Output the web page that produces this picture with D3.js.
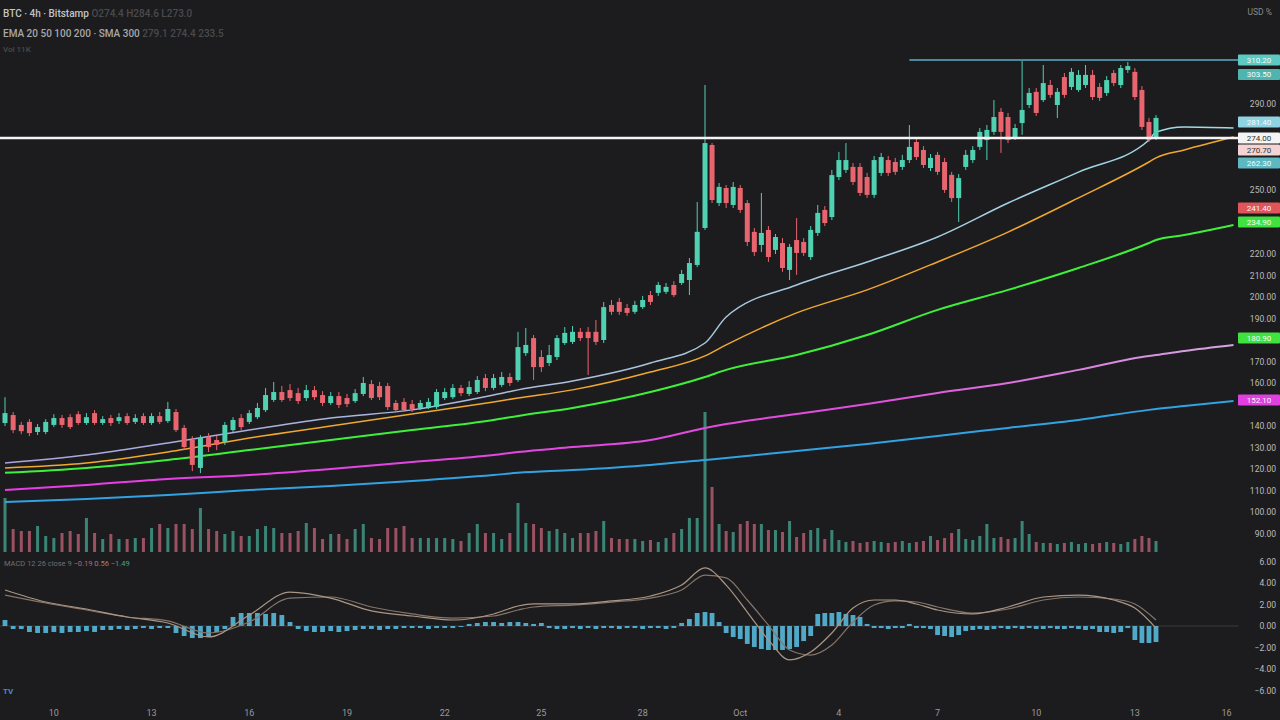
<!DOCTYPE html>
<html>
<head>
<meta charset="utf-8">
<title>BTC 4h</title>
<script src="https://cdn.jsdelivr.net/npm/d3@7"></script>
<style>
  html, body { margin: 0; padding: 0; background: #1c1c1e; overflow: hidden; }
  svg { display: block; }
  text { font-family: Roboto, "DejaVu Sans", sans-serif; }
</style>
</head>
<body>
<div id="chart"></div>
<script>
"use strict";

/*
 * ============================================================================
 * Data
 * ============================================================================
 */

// [open, high, low, close]
const candles = [
  [141.4,153.4,140.0,146.0],[145.1,146.5,136.7,138.1],[140.5,141.9,136.2,137.6],[141.9,143.2,135.3,136.7],
  [137.2,140.9,135.8,139.5],[137.2,143.2,136.2,141.9],[140.5,145.5,139.5,143.7],[143.7,145.1,139.1,140.5],
  [144.1,145.5,138.6,139.5],[145.5,146.9,140.5,141.4],[141.4,146.0,140.5,144.1],[146.0,147.4,140.5,141.4],
  [141.4,144.6,140.5,143.2],[143.7,145.1,140.0,141.4],[142.3,146.0,140.9,144.1],[144.6,146.0,140.5,141.4],
  [141.9,145.5,140.9,143.7],[144.6,146.0,140.5,141.4],[141.4,146.0,140.5,144.6],[144.6,146.5,140.9,141.9],
  [142.3,151.2,141.4,147.9],[146.5,147.9,137.2,138.1],[139.1,140.5,128.8,130.2],[133.5,135.3,119.0,121.9],
  [120.5,135.8,118.1,134.4],[134.9,136.7,127.9,130.2],[133.5,135.3,128.8,131.2],[132.6,141.9,131.2,140.5],
  [138.1,144.1,137.2,142.8],[143.7,145.5,138.1,139.5],[141.9,147.4,140.9,146.0],[144.1,150.7,143.2,148.4],
  [147.4,157.7,146.5,154.4],[152.1,160.5,151.2,155.8],[155.8,158.6,151.2,152.1],[156.7,159.5,151.6,153.0],
  [155.3,157.7,150.2,151.6],[153.0,159.1,151.6,156.7],[156.7,158.6,152.1,153.4],[154.4,156.2,149.3,150.7],
  [150.7,155.8,149.8,153.9],[153.9,155.8,148.4,149.8],[153.0,154.9,148.8,150.2],[151.6,157.2,150.7,155.3],
  [154.9,162.8,153.9,160.0],[159.5,161.4,152.1,153.0],[158.6,160.5,152.1,153.4],[158.6,160.0,147.4,148.8],
  [150.7,152.1,146.5,147.4],[151.2,153.0,146.5,147.4],[150.2,152.1,146.5,147.9],[148.4,152.1,147.4,150.7],
  [148.8,153.0,147.9,151.2],[148.8,157.2,147.9,155.8],[153.0,157.7,152.1,155.8],[153.4,159.5,152.5,157.7],
  [157.7,159.1,153.9,155.3],[154.9,160.9,153.9,158.1],[155.8,163.2,154.9,161.4],[162.3,164.2,156.2,157.7],
  [157.7,164.2,156.7,162.3],[159.1,165.1,158.1,162.8],[162.8,164.6,158.6,160.0],[161.4,183.8,160.5,176.7],
  [173.9,185.6,172.6,177.7],[180.9,182.3,161.4,167.4],[172.1,175.3,165.1,167.4],[169.3,177.7,167.9,173.0],
  [172.1,182.3,170.7,180.9],[178.6,186.0,177.7,183.3],[179.1,186.5,178.1,183.8],[183.8,185.6,179.5,180.9],
  [183.8,186.0,163.7,180.9],[183.8,189.3,177.7,179.1],[180.0,197.7,178.6,195.3],[196.3,198.6,191.7,193.1],
  [197.7,199.5,191.7,193.1],[194.9,196.8,191.2,192.6],[193.1,198.2,192.1,196.3],[195.3,200.5,194.4,198.6],
  [200.9,202.8,196.3,197.7],[201.9,207.0,200.5,205.6],[202.4,206.5,201.4,204.7],[205.6,207.4,200.0,200.9],
  [206.5,212.6,205.6,210.7],[207.9,218.1,200.9,215.8],[214.9,244.2,213.9,230.3],[232.1,298.6,231.2,271.6],
  [270.7,271.6,243.7,245.1],[243.7,253.0,242.3,251.2],[250.7,252.1,241.4,243.7],[242.8,253.5,241.4,251.2],
  [250.7,252.1,239.1,240.5],[243.7,245.1,223.7,225.6],[230.3,232.1,219.1,220.9],[224.2,248.4,220.9,229.8],
  [231.2,233.0,216.3,218.6],[221.9,229.3,220.0,227.9],[225.1,227.4,211.7,213.5],[212.6,224.7,207.9,223.3],
  [226.5,236.7,210.3,220.5],[225.6,227.4,219.1,220.5],[218.6,233.0,217.2,231.2],[229.8,242.8,228.4,239.1],
  [240.5,242.3,233.0,234.4],[237.2,259.1,235.8,256.7],[255.8,267.5,254.4,263.7],[259.1,271.6,257.7,263.7],
  [260.5,262.3,252.1,253.5],[260.5,262.3,247.0,248.4],[255.8,257.7,246.1,247.5],[247.5,265.6,246.1,263.7],
  [257.7,267.0,256.3,265.1],[263.7,265.6,256.3,257.7],[262.8,264.7,256.8,258.2],[260.5,266.1,259.1,263.7],
  [263.7,280.0,262.3,269.8],[272.1,273.9,263.7,265.1],[268.4,270.2,260.0,261.4],[260.0,266.5,258.6,264.7],
  [266.1,267.5,256.8,258.2],[262.8,264.7,248.4,249.8],[256.8,258.2,244.2,246.0],[246.0,257.2,234.9,255.3],
  [260.5,268.4,259.1,266.1],[263.7,270.2,262.3,268.4],[269.8,278.6,268.4,276.8],[273.0,280.0,263.7,277.7],
  [276.8,291.6,275.4,283.7],[286.1,287.9,267.0,276.8],[283.7,285.6,271.6,273.0],[273.9,280.5,273.0,278.6],
  [280.9,310.2,275.4,287.0],[289.3,297.2,287.9,294.9],[295.4,297.2,284.2,285.6],[291.6,307.9,290.7,299.5],
  [298.6,300.9,292.6,294.0],[289.3,297.2,283.2,295.4],[302.3,304.2,292.6,294.0],[297.7,306.5,296.3,304.7],
  [296.3,305.6,295.4,303.3],[298.6,307.9,297.2,303.3],[303.3,305.6,291.6,293.0],[297.7,299.5,291.2,292.6],
  [294.9,302.8,293.5,300.9],[304.2,305.6,298.1,299.5],[298.6,307.9,297.2,306.5],[305.6,309.3,304.2,307.4],
  [304.7,306.5,291.6,293.0],[296.3,298.1,277.7,279.1],[281.4,283.3,272.1,273.0],[274.4,284.6,273.0,283.3]
];

// volume, thousands
const volumes = [
  54, 23, 21, 21, 26, 16, 14, 19, 21, 18, 34, 19, 13, 18, 13, 13, 14, 14, 24, 28,
  24, 28, 28, 23, 44, 23, 21, 18, 21, 16, 16, 23, 26, 24, 19, 19, 21, 29, 24, 13,
  18, 18, 13, 23, 28, 14, 13, 24, 24, 26, 14, 14, 14, 14, 14, 13, 11, 19, 28, 19,
  19, 13, 19, 49, 29, 28, 24, 21, 23, 19, 14, 19, 19, 21, 31, 14, 13, 13, 13, 11,
  12, 10, 14, 19, 23, 34, 34, 140, 65, 28, 21, 20, 28, 31, 28, 28, 22, 22, 20, 31,
  15, 19, 22, 24, 13, 22, 12, 10, 11, 9, 10, 11, 10, 9, 10, 11, 9, 10, 11, 16,
  12, 14, 19, 23, 13, 12, 16, 28, 14, 15, 13, 14, 31, 18, 10, 9, 9, 8, 9, 10,
  8, 9, 8, 9, 10, 9, 8, 10, 13, 16, 14, 11
];

// moving averages, sampled at bar index
const maIndex = [0, 10, 20, 30, 40, 50, 60, 63, 70, 80, 87, 90, 100, 110, 120, 130, 140, 150, 151, 155, 162];
const ema20  = [122.8, 126.5, 132.1, 138.1, 143.7, 147.5, 154.4, 156.8, 160.9, 169.3, 178.6, 190.7, 205.6, 216.3, 227.9, 243.7, 258.1, 273.0, 276.7, 279.1, 278.6];
const ema50  = [120.5, 122.8, 127.9, 134.4, 140.0, 145.6, 151.2, 153.0, 156.8, 165.1, 172.6, 177.7, 192.6, 203.3, 216.3, 230.2, 246.1, 262.8, 264.7, 268.4, 274.4];
const ema100 = [118.2, 120.5, 124.2, 128.8, 133.5, 138.1, 142.8, 144.7, 148.4, 155.8, 162.8, 166.1, 173.0, 182.3, 194.0, 203.3, 213.5, 225.1, 226.5, 228.8, 233.5];
const ema200 = [110.2, 112.6, 115.4, 117.2, 120.0, 123.3, 126.5, 127.9, 130.2, 133.5, 139.1, 140.9, 145.6, 150.2, 155.4, 160.0, 166.1, 172.6, 173.0, 174.9, 177.7];
const sma300 = [104.7, 106.1, 107.9, 110.2, 112.1, 114.4, 117.2, 118.2, 119.5, 121.9, 124.2, 125.1, 128.4, 131.6, 135.4, 139.1, 142.8, 147.5, 147.9, 149.3, 151.6];

// MACD, sampled at bar index
const macdIndex = [0, 5, 10, 15, 20, 25, 30, 35, 40, 45, 50, 55, 60, 63, 65, 70, 75, 80, 84, 87,
                   90, 93, 96, 99, 102, 105, 108, 111, 114, 117, 120, 125, 130, 135, 140, 145, 148, 151];
const macdLine = [3.35, 2.23, 1.58, 0.84, 0.28, -1.02, 1.02, 3.16, 2.60, 1.40, 0.93, 0.56, 1.12, 1.86, 2.05, 2.05, 2.33, 2.79, 3.81, 5.40,
                  3.81, 1.30, -1.30, -3.16, -2.42, -0.65, 1.67, 2.42, 2.42, 2.05, 1.49, 1.12, 1.77, 2.70, 2.88, 2.42, 1.67, -0.19];
const signalLine = [2.88, 2.14, 1.49, 0.84, 0.47, -0.65, 0.37, 2.60, 2.70, 1.77, 1.12, 0.74, 0.93, 1.49, 1.77, 1.95, 2.23, 2.60, 3.35, 4.74,
                    4.47, 2.42, 0.09, -2.23, -2.70, -1.77, 0.37, 1.95, 2.33, 2.23, 1.77, 1.21, 1.58, 2.42, 2.70, 2.51, 2.05, 0.56];

// MACD histogram, one per bar
const histogram = [
  0.56, -0.28, -0.28, -0.56, -0.65, -0.65, -0.56, -0.65, -0.56, -0.56,
  -0.47, -0.56, -0.37, -0.37, -0.28, -0.37, -0.28, -0.19, -0.28, -0.19,
  -0.19, -0.65, -0.93, -1.12, -1.12, -1.02, -0.56, -0.28, 0.84, 1.21,
  1.21, 1.21, 1.12, 1.21, 1.02, 0.37, -0.28, -0.47, -0.56, -0.56,
  -0.47, -0.56, -0.47, -0.37, -0.28, -0.28, -0.37, -0.28, -0.28, -0.19,
  -0.19, -0.19, -0.28, -0.19, -0.19, -0.19, -0.09, 0.19, 0.28, 0.37,
  0.37, 0.28, 0.37, 0.37, 0.28, 0.19, 0.28, -0.19, -0.28, -0.28,
  -0.19, -0.28, -0.19, -0.28, -0.19, -0.19, -0.28, -0.19, -0.19, -0.28,
  -0.19, -0.19, -0.28, -0.19, 0.28, 0.65, 1.21, 1.30, 1.21, 0.37,
  -0.65, -1.02, -1.21, -1.67, -1.95, -2.14, -2.23, -2.23, -2.23, -2.14,
  -1.95, -1.40, -0.93, 1.12, 1.21, 1.21, 1.30, 1.12, 1.02, 0.84,
  0.19, -0.19, -0.19, -0.28, -0.19, -0.19, 0.19, -0.19, -0.19, -0.28,
  -0.84, -0.93, -1.02, -0.84, -0.47, -0.37, -0.28, -0.37, -0.28, -0.19,
  -0.28, -0.19, -0.28, -0.19, -0.28, -0.28, -0.19, -0.28, -0.28, -0.19,
  -0.28, -0.37, -0.28, -0.56, -0.56, -0.65, -0.56, -0.19, -1.30, -1.58,
  -1.58, -1.49
];

// axes
const priceTicks = [90, 100, 110, 120, 130, 140, 150, 160, 170, 180, 190, 200, 210, 220, 230, 240, 250, 260, 270, 280, 290];
const macdTicks = [-6, -4, -2, 0, 2, 4, 6];
const dateTickIndex = [6, 18, 30, 42, 54, 66, 79, 92, 106, 120, 134, 148, 161];
const dateTickLabels = ["10", "13", "16", "19", "22", "25", "28", "Oct", "4", "7", "10", "13", "16"];

// horizontal levels
const levelPrices = [274.0, 310.2];
const levelFrom = [0, 116];

// price tags on the right scale
const tagPrices = [310.2, 303.5, 281.4, 274.0, 270.7, 262.3, 241.4, 234.9, 180.9, 152.1];
const tagColors = ["#5ccac0", "#4db5ad", "#8fd2e2", "#f4f4f4", "#f3d3d3", "#5db8c2", "#e0555a", "#3fe23f", "#3fe23f", "#e040e0"];


/*
 * ============================================================================
 * Chart
 * ============================================================================
 */

const W = 1280;
const H = 720;
const PLOT_RIGHT = 1238;
const TAG_H = 11;

const UP = "#4fd1b2";
const DOWN = "#e8646e";

const svg = d3.select("#chart")
  .append("svg")
    .attr("width", W)
    .attr("height", H);

svg.append("rect")
    .attr("width", W)
    .attr("height", H)
    .attr("fill", "#1c1c1e");

const defs = svg.append("defs");

defs.append("clipPath")
    .attr("id", "plot-clip")
  .append("rect")
    .attr("x", 0)
    .attr("y", 0)
    .attr("width", PLOT_RIGHT)
    .attr("height", H);

function gradient(id, stops) {
    const g = defs.append("linearGradient")
        .attr("id", id)
        .attr("gradientUnits", "userSpaceOnUse")
        .attr("x1", 0).attr("x2", PLOT_RIGHT)
        .attr("y1", 0).attr("y2", 0);
    stops.forEach(s => g.append("stop").attr("offset", s[0]).attr("stop-color", s[1]));
}

gradient("g-ema20", [[0, "#a9a4e2"], [0.5, "#a9c2dc"], [1, "#9fdbe6"]]);
gradient("g-ema200", [[0, "#e83ce6"], [0.7, "#e04ede"], [1, "#d4a8e0"]]);

// scales
const x = d3.scaleLinear()
    .domain([0, 63, 87, 151])
    .range([5, 518, 705, 1156]);

const y = d3.scaleLinear()
    .domain([100, 290])
    .range([512, 103.5]);

const yVol = d3.scaleLinear()
    .domain([0, 140])
    .range([552, 412]);

const yMacd = d3.scaleLinear()
    .domain([-6, 6])
    .range([690.5, 561.5]);

const plot = svg.append("g")
    .attr("clip-path", "url(#plot-clip)");

const up = d => d[3] >= d[0];

// volume
plot.append("g")
  .selectAll("rect")
  .data(volumes)
  .join("rect")
    .attr("x", (v, i) => x(i) - 1.5)
    .attr("width", 3)
    .attr("y", v => yVol(v))
    .attr("height", v => yVol(0) - yVol(v))
    .attr("fill", (v, i) => up(candles[i]) ? "#3f9886" : "#b05c6e")
    .attr("opacity", 0.85);

// moving averages
const maLine = d3.line()
    .x(d => x(d[0]))
    .y(d => y(d[1]))
    .curve(d3.curveMonotoneX);

const averages = [
    { values: sma300, color: "#31a3e2", width: 2 },
    { values: ema200, color: "url(#g-ema200)", width: 2 },
    { values: ema100, color: "#3ef03a", width: 2 },
    { values: ema50, color: "#f0a830", width: 1.5 },
    { values: ema20, color: "url(#g-ema20)", width: 1.5 },
];

averages.forEach(ma => {
    plot.append("path")
        .datum(maIndex.map((i, k) => [i, ma.values[k]]))
        .attr("fill", "none")
        .attr("stroke", ma.color)
        .attr("stroke-width", ma.width)
        .attr("d", maLine);
});

// candles
const bars = plot.append("g")
  .selectAll("g")
  .data(candles)
  .join("g");

bars.append("line")
    .attr("x1", (d, i) => x(i))
    .attr("x2", (d, i) => x(i))
    .attr("y1", d => y(d[1]))
    .attr("y2", d => y(d[2]))
    .attr("stroke", d => up(d) ? UP : DOWN)
    .attr("stroke-width", 1);

bars.append("rect")
    .attr("x", (d, i) => x(i) - 2.5)
    .attr("width", 5)
    .attr("y", d => y(Math.max(d[0], d[3])))
    .attr("height", d => Math.max(1, Math.abs(y(d[0]) - y(d[3]))))
    .attr("fill", d => up(d) ? UP : DOWN);

// horizontal levels
plot.append("line")
    .attr("x1", x(levelFrom[1]))
    .attr("x2", PLOT_RIGHT)
    .attr("y1", y(levelPrices[1]))
    .attr("y2", y(levelPrices[1]))
    .attr("stroke", "#4a8a9a")
    .attr("stroke-width", 2);

plot.append("line")
    .attr("x1", x(levelFrom[0]) - 5)
    .attr("x2", PLOT_RIGHT)
    .attr("y1", y(levelPrices[0]))
    .attr("y2", y(levelPrices[0]))
    .attr("stroke", "#f4f4f4")
    .attr("stroke-width", 2.5);

// MACD pane
plot.append("line")
    .attr("x1", 0)
    .attr("x2", PLOT_RIGHT)
    .attr("y1", yMacd(0))
    .attr("y2", yMacd(0))
    .attr("stroke", "#3a3a3d")
    .attr("stroke-width", 1);

plot.append("g")
  .selectAll("rect")
  .data(histogram)
  .join("rect")
    .attr("x", (v, i) => x(i) - 2.4)
    .attr("width", 4.8)
    .attr("y", v => yMacd(Math.max(0, v)))
    .attr("height", v => Math.abs(yMacd(v) - yMacd(0)))
    .attr("fill", "#56b9dc")
    .attr("opacity", 0.9);

const macdPath = d3.line()
    .x(d => x(d[0]))
    .y(d => yMacd(d[1]))
    .curve(d3.curveMonotoneX);

[[signalLine, "#85756a"], [macdLine, "#ab9684"]].forEach(([vals, color]) => {
    plot.append("path")
        .datum(macdIndex.map((i, k) => [i, vals[k]]))
        .attr("fill", "none")
        .attr("stroke", color)
        .attr("stroke-width", 1.2)
        .attr("d", macdPath);
});


/*
 * ============================================================================
 * Scales and labels
 * ============================================================================
 */

// stack the price tags so that none overlap
const tagY = [];
d3.range(tagPrices.length)
    .sort((a, b) => y(tagPrices[a]) - y(tagPrices[b]))
    .forEach((k, n, order) => {
        let ty = y(tagPrices[k]);
        if (n > 0) ty = Math.max(ty, tagY[order[n - 1]] + TAG_H + 1);
        tagY[k] = ty;
    });

const axis = svg.append("g")
    .attr("font-size", 8.5)
    .attr("fill", "#bdbdbd")
    .attr("text-anchor", "end");

// hide the scale labels that a tag covers
const freeTicks = priceTicks.filter(t => tagY.every(ty => Math.abs(ty - y(t)) > TAG_H));

axis.selectAll(".price")
  .data(freeTicks)
  .join("text")
    .attr("class", "price")
    .attr("x", 1276)
    .attr("y", d => y(d) + 3)
    .text(d => d3.format(".2f")(d));

axis.selectAll(".macd")
  .data(macdTicks)
  .join("text")
    .attr("class", "macd")
    .attr("x", 1276)
    .attr("y", d => yMacd(d) + 3)
    .text(d => d3.format(".2f")(d));

// price tags
const tags = svg.append("g")
  .selectAll("g")
  .data(tagPrices)
  .join("g")
    .attr("transform", (d, i) => `translate(1238,${tagY[i]})`);

tags.append("rect")
    .attr("x", 0)
    .attr("y", -TAG_H / 2)
    .attr("width", 42)
    .attr("height", TAG_H)
    .attr("rx", 1)
    .attr("fill", (d, i) => tagColors[i]);

tags.append("text")
    .attr("x", 21)
    .attr("y", 3)
    .attr("text-anchor", "middle")
    .attr("font-size", 8)
    .attr("fill", (d, i) => (i === 3 || i === 4) ? "#333" : "#f4fbfb")
    .text(d => d3.format(".2f")(d));

// date axis
svg.append("g")
    .attr("font-size", 9)
    .attr("fill", "#9a9a9a")
    .attr("text-anchor", "middle")
  .selectAll("text")
  .data(dateTickIndex)
  .join("text")
    .attr("x", d => x(d))
    .attr("y", 716)
    .text((d, i) => dateTickLabels[i]);

// legend lines
const head = svg.append("g")
    .attr("font-size", 10)
    .attr("font-weight", 500);

const t1 = head.append("text").attr("x", 3).attr("y", 17);
t1.append("tspan").attr("fill", "#c4c4c4").text("BTC · 4h · Bitstamp ");
t1.append("tspan").attr("fill", "#4a4a4c").text(" O274.4 H284.6 L273.0");

const t2 = head.append("text").attr("x", 3).attr("y", 37);
t2.append("tspan").attr("fill", "#a8a8a8").text("EMA 20  50  100  200 · SMA 300 ");
t2.append("tspan").attr("fill", "#4a4a4c").text(" 279.1  274.4  233.5");

head.append("text")
    .attr("x", 3)
    .attr("y", 52)
    .attr("font-size", 8)
    .attr("fill", "#4a4a4c")
    .text("Vol 11K");

const macdLegend = svg.append("text")
    .attr("x", 4)
    .attr("y", 566)
    .attr("font-size", 7.5);
[["MACD 12 26 close 9 ", "#6f6f72"], ["−0.19 ", "#c0607a"], ["0.56 ", "#b07a66"], ["−1.49", "#3aa890"]]
    .forEach(([s, c]) => macdLegend.append("tspan").attr("fill", c).text(s));

svg.append("text")
    .attr("x", 1272)
    .attr("y", 15)
    .attr("text-anchor", "end")
    .attr("font-size", 8.5)
    .attr("fill", "#8a8a8a")
    .text("USD %");

svg.append("text")
    .attr("x", 3)
    .attr("y", 694)
    .attr("font-size", 8)
    .attr("font-weight", 700)
    .attr("fill", "#3d8fd6")
    .text("TV");
</script>
</body>
</html>
